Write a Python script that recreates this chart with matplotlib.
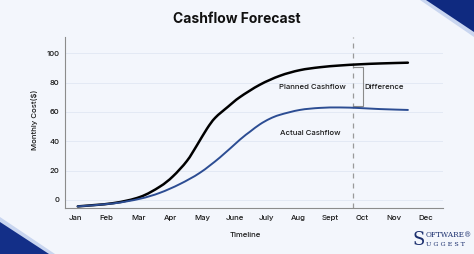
import matplotlib
matplotlib.use("Agg")
import matplotlib.pyplot as plt
from matplotlib.patches import Polygon, PathPatch
from matplotlib.path import Path

plt.rcParams['font.family'] = ['Inter', 'DejaVu Sans']

months = ["Jan", "Feb", "Mar", "Apr", "May", "June", "July", "Aug", "Sept", "Oct", "Nov", "Dec"]
yticks = [0, 20, 40, 60, 80, 100]

planned_x = [0.09, 1.2, 2.04, 2.66, 3.07, 3.51, 3.82, 4.14, 4.4, 4.8, 5.17, 5.8, 6.43, 7.05, 7.68, 8.31, 8.93, 9.6, 10.44]
planned_y = [-4.4, -2.2, 2.0, 9.0, 16.0, 26.5, 37.0, 48.5, 56.0, 63.5, 70.0, 78.5, 84.6, 88.4, 90.4, 91.6, 92.4, 93.0, 93.5]

actual_x = [0.09, 1.2, 2.04, 2.66, 3.29, 3.92, 4.55, 5.17, 5.49, 5.80, 6.11, 6.43, 7.05, 7.68, 8.31, 8.93, 9.56, 10.44]
actual_y = [-4.4, -2.4, 0.8, 4.8, 10.8, 18.5, 29.0, 41.0, 46.5, 51.5, 55.3, 58.0, 61.3, 62.7, 63.0, 62.6, 61.9, 61.3]

marker_month = 8.71
bracket_top = 90.8
bracket_bottom = 64.3

W, H = 474, 254
fig = plt.figure(figsize=(W / 100, H / 100), dpi=100)
bg = '#f3f6fc'
fig.patch.set_facecolor(bg)


def fp(pts):
    return [(x / W, 1 - y / H) for x, y in pts]


fig.patches.append(Polygon(fp([(420, 0), (474, 0), (474, 37)]), closed=True,
                           transform=fig.transFigure, facecolor='#c9d6f0', edgecolor='none'))
fig.patches.append(Polygon(fp([(426, 0), (474, 0), (474, 32)]), closed=True,
                           transform=fig.transFigure, facecolor='#0f2a80', edgecolor='none'))
fig.patches.append(Polygon(fp([(0, 217), (0, 254), (55, 254)]), closed=True,
                           transform=fig.transFigure, facecolor='#c9d6f0', edgecolor='none'))
fig.patches.append(Polygon(fp([(0, 222), (0, 254), (49, 254)]), closed=True,
                           transform=fig.transFigure, facecolor='#132f88', edgecolor='none'))

ax = fig.add_axes([65 / W, 1 - 208 / H, (443 - 65) / W, (208 - 37) / H])
ax.set_facecolor(bg)

for t in yticks:
    ax.axhline(t, color='#e3e9f4', lw=0.7, zorder=0)


def smooth_path(xs, ys):
    """Catmull-Rom spline through the read points, as cubic Bezier segments."""
    pts = list(zip(xs, ys))
    verts = [pts[0]]
    codes = [Path.MOVETO]
    n = len(pts)
    for i in range(n - 1):
        p0 = pts[i - 1] if i > 0 else pts[i]
        p1 = pts[i]
        p2 = pts[i + 1]
        p3 = pts[i + 2] if i + 2 < n else pts[i + 1]
        c1 = (p1[0] + (p2[0] - p0[0]) / 6, p1[1] + (p2[1] - p0[1]) / 6)
        c2 = (p2[0] - (p3[0] - p1[0]) / 6, p2[1] - (p3[1] - p1[1]) / 6)
        verts += [c1, c2, p2]
        codes += [Path.CURVE4] * 3
    return Path(verts, codes)


ax.add_patch(PathPatch(smooth_path(planned_x, planned_y), facecolor='none',
                       edgecolor='black', lw=1.8, capstyle='round', zorder=3))
ax.add_patch(PathPatch(smooth_path(actual_x, actual_y), facecolor='none',
                       edgecolor='#2c4d93', lw=1.4, capstyle='round', zorder=3))

ax.axvline(marker_month, color='#9a9a9a', lw=0.9, ls=(0, (4, 4)), zorder=2)

bx = marker_month + 0.32
ax.plot([marker_month, bx, bx, marker_month],
        [bracket_top, bracket_top, bracket_bottom, bracket_bottom],
        color='#8a8a8a', lw=0.8, zorder=2)

tw = 'medium'
ax.text(9.09, 77.2, "Difference", fontsize=5.6, color='#1a1a1a', ha='left', va='center', fontweight=tw)
ax.text(7.46, 77.2, "Planned Cashflow", fontsize=5.6, color='#1a1a1a', ha='center', va='center', fontweight=tw)
ax.text(7.37, 45.9, "Actual Cashflow", fontsize=5.6, color='#1a1a1a', ha='center', va='center', fontweight=tw)

ax.set_xlim(-0.31, 11.54)
ax.set_ylim(-5.5, 111)
ax.set_xticks(range(len(months)))
ax.set_xticklabels(months, fontweight=tw)
ax.set_yticks(yticks)
ax.set_yticklabels([str(t) for t in yticks], fontweight=tw)
ax.tick_params(axis='both', length=0, labelsize=5.6, colors='#1a1a1a')
ax.tick_params(axis='y', pad=4)
ax.tick_params(axis='x', pad=5)

for s in ['top', 'right']:
    ax.spines[s].set_visible(False)
for s in ['left', 'bottom']:
    ax.spines[s].set_color('#8c8c8c')
    ax.spines[s].set_linewidth(0.8)

fig.text(237 / W, 1 - 19 / H, "Cashflow Forecast", fontsize=10, fontweight='bold',
         ha='center', va='center', color='#111111')
fig.text(34 / W, 1 - 120 / H, "Monthly Cost($)", fontsize=5.6, rotation=90,
         ha='center', va='center', color='#1a1a1a', fontweight=tw)
fig.text(245 / W, 1 - 235 / H, "Timeline", fontsize=5.6, ha='center', va='center',
         color='#1a1a1a', fontweight=tw)

# logo
fig.text(413 / W, 1 - 240 / H, "S", fontsize=13, ha='left', va='center', color='#1b2f6e',
         family=['DejaVu Serif'])
fig.text(426 / W, 1 - 235 / H, "OFTWARE®", fontsize=5.2, ha='left', va='center', color='#1b2f6e',
         family=['DejaVu Serif'])
fig.text(426 / W, 1 - 245 / H, "U G G E S T", fontsize=4.6, ha='left', va='center', color='#1b2f6e',
         family=['DejaVu Serif'])

fig.savefig("out.png", dpi=100, facecolor=bg)
